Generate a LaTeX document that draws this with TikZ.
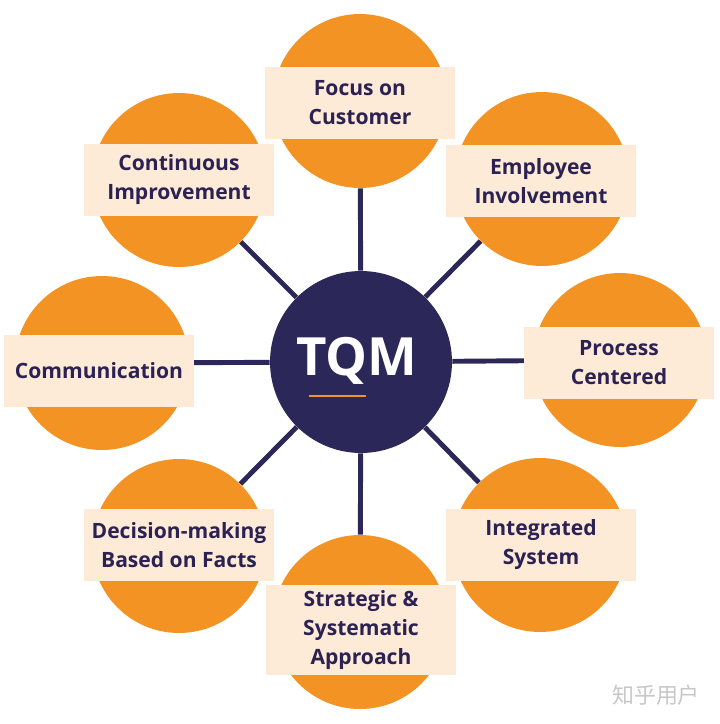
\documentclass[tikz,border=0pt]{standalone}
\usepackage{fontspec}
\setsansfont{Open Sans}
\newfontfamily\cjkfont{Noto Sans CJK SC}
\usepackage{xcolor}
\usepackage{tikz}
\usetikzlibrary{backgrounds}
\definecolor{navy}{HTML}{2C2759}
\definecolor{ink}{HTML}{2B2253}
\definecolor{tangerine}{HTML}{F39324}
\definecolor{peach}{HTML}{FDEAD7}

\tikzset{
  petal/.style={circle,fill=tangerine,minimum size=3.48cm,inner sep=0pt},
  band/.style={fill=peach,minimum width=3.82cm,minimum height=1.44cm,inner sep=0pt,
    align=center,text=ink,font=\sffamily\bfseries\fontsize{12}{16.5}\selectfont},
  hub/.style={circle,fill=navy,minimum size=3.64cm,inner sep=0pt},
  spoke/.style={navy,line width=2.8pt}
}

\begin{document}
\begin{tikzpicture}[x=0.02cm,y=-0.02cm]
\useasboundingbox (0,0) rectangle (720,724);
\node[hub] (hub) at (361,362) {};
\node[text=white,font=\sffamily\bfseries\fontsize{30}{30}\selectfont] (tqm) at (357,361) {TQM};
\draw[tangerine,line width=1.6pt] (309,396) -- (366,396);
% petals, clockwise from top
\node[petal] (cust) at (360,101) {};
\node[band] (custlbl) at (360,103) {Focus on\\Customer};
\node[petal] (empl) at (542,179) {};
\node[band] (empllbl) at (541,181) {Employee\\Involvement};
\node[petal] (proc) at (620,360) {};
\node[band] (proclbl) at (619,363) {Process\\Centered};
\node[petal] (intg) at (540,545) {};
\node[band] (intglbl) at (541,545) {Integrated\\System};
\node[petal] (strat) at (360,622) {};
\node[band,minimum height=1.8cm] (stratlbl) at (361,630) {Strategic \&\\Systematic\\Approach};
\node[petal] (deci) at (179,546) {};
\node[band] (decilbl) at (179,545) {Decision-making\\Based on Facts};
\node[petal] (comm) at (102,363) {};
\node[band] (commlbl) at (99,371) {Communication};
\node[petal] (cont) at (179,180) {};
\node[band] (contlbl) at (179,180) {Continuous\\Improvement};
\begin{pgfonlayer}{background}
\draw[spoke] (hub) -- (cust);
\draw[spoke] (hub) -- (empl);
\draw[spoke] (hub) -- (proc);
\draw[spoke] (hub) -- (intg);
\draw[spoke] (hub) -- (strat);
\draw[spoke] (hub) -- (deci);
\draw[spoke] (hub) -- (comm);
\draw[spoke] (hub) -- (cont);
\end{pgfonlayer}
\node[text=black!22,font=\cjkfont\fontsize{12.5}{12.5}\selectfont] (mark) at (656,695) {知乎用户};
\end{tikzpicture}
\end{document}
